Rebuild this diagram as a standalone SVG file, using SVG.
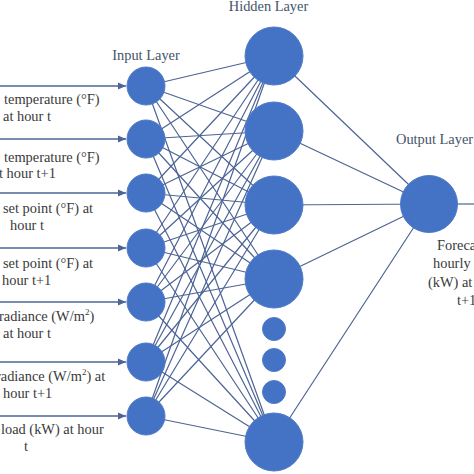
<svg xmlns="http://www.w3.org/2000/svg" width="474" height="474" viewBox="0 0 474 474">
<style>
.n{fill:#4472C4;stroke:#4f7bc8;stroke-width:1}
.c{stroke:#4d6494;stroke-width:1.2;fill:none}
.a{stroke:#4d6494;stroke-width:1.3;fill:none}
.t{font-family:"Liberation Serif","Times New Roman",serif;font-size:14.4px;fill:#3a3a3a}
.h{font-family:"Liberation Serif","Times New Roman",serif;font-size:14.4px;fill:#44546A}
</style>
<defs>
<marker id="ah" viewBox="0 0 8 8" refX="8" refY="4" markerWidth="8" markerHeight="8" markerUnits="userSpaceOnUse" orient="auto">
<path d="M0,0.5 L8,4 L0,7.5 Z" fill="#4d6494"/>
</marker>
</defs>
<rect width="474" height="474" fill="#ffffff"/>
<g id="connectors">
<g class="c">
<path d="M146,86L274,56M146,86L274,131M146,86L274,205M146,86L274,279M146,86L274,442"/>
<path d="M146,139L274,56M146,139L274,131M146,139L274,205M146,139L274,279M146,139L274,442"/>
<path d="M146,193L274,56M146,193L274,131M146,193L274,205M146,193L274,279M146,193L274,442"/>
<path d="M146,248L274,56M146,248L274,131M146,248L274,205M146,248L274,279M146,248L274,442"/>
<path d="M146,302L274,56M146,302L274,131M146,302L274,205M146,302L274,279M146,302L274,442"/>
<path d="M146,362L274,56M146,362L274,131M146,362L274,205M146,362L274,279M146,362L274,442"/>
<path d="M146,416L274,56M146,416L274,131M146,416L274,205M146,416L274,279M146,416L274,442"/>
<path d="M274,56L429,204M274,131L429,204M274,205L429,204M274,279L429,204M274,442L429,204"/>
<path d="M457,204L474,204"/>
</g>
<g class="a" marker-end="url(#ah)">
<path d="M0,86L126,86"/>
<path d="M0,139L126,139"/>
<path d="M0,193L126,193"/>
<path d="M0,248L126,248"/>
<path d="M0,302L126,302"/>
<path d="M0,362L126,362"/>
<path d="M0,416L126,416"/>
</g>
</g>
<g id="labels">
<text class="h" x="146" y="60" text-anchor="middle">Input Layer</text>
<text class="h" x="268.5" y="11" text-anchor="middle">Hidden Layer</text>
<text class="h" x="396" y="144">Output Layer</text>
</g>
<g id="input1"><circle class="n" cx="146" cy="86" r="19"/>
<text class="t" x="4" y="104">temperature (°F)</text><text class="t" x="3" y="121">at hour t</text></g>
<g id="input2"><circle class="n" cx="146" cy="139" r="19"/>
<text class="t" x="4" y="162">temperature (°F)</text><text class="t" x="-1" y="178">t hour t+1</text></g>
<g id="input3"><circle class="n" cx="146" cy="193" r="19"/>
<text class="t" x="3" y="212.5">set point (°F) at</text><text class="t" x="10" y="229.5">hour t</text></g>
<g id="input4"><circle class="n" cx="146" cy="248" r="19"/>
<text class="t" x="3" y="267.5">set point (°F) at</text><text class="t" x="2" y="284.5">hour t+1</text></g>
<g id="input5"><circle class="n" cx="146" cy="302" r="19"/>
<text class="t" x="-1" y="320.5">radiance (W/m<tspan font-size="9" dy="-6">2</tspan><tspan dy="6">)</tspan></text><text class="t" x="3" y="337.5">at hour t</text></g>
<g id="input6"><circle class="n" cx="146" cy="362" r="19"/>
<text class="t" x="-4" y="380.5">radiance (W/m<tspan font-size="9" dy="-6">2</tspan><tspan dy="6">) at</tspan></text><text class="t" x="3" y="397.5">hour t+1</text></g>
<g id="input7"><circle class="n" cx="146" cy="416" r="19"/>
<text class="t" x="1" y="433.5">load (kW) at hour</text><text class="t" x="24" y="451">t</text></g>
<g id="hidden1"><circle class="n" cx="274" cy="56" r="29"/></g>
<g id="hidden2"><circle class="n" cx="274" cy="131" r="29"/></g>
<g id="hidden3"><circle class="n" cx="274" cy="205" r="29"/></g>
<g id="hidden4"><circle class="n" cx="274" cy="279" r="29"/></g>
<g id="dot1"><circle class="n" cx="274" cy="329" r="11.5"/></g>
<g id="dot2"><circle class="n" cx="274" cy="360" r="11.5"/></g>
<g id="dot3"><circle class="n" cx="274" cy="392" r="11.5"/></g>
<g id="hidden5"><circle class="n" cx="274" cy="442" r="29"/></g>
<g id="output"><circle class="n" cx="429" cy="204" r="28.5"/>
<text class="t" x="437" y="249.5">Foreca</text>
<text class="t" x="433" y="268">hourly</text>
<text class="t" x="428" y="286.5">(kW) at</text>
<text class="t" x="457" y="305">t+1</text></g>
</svg>
